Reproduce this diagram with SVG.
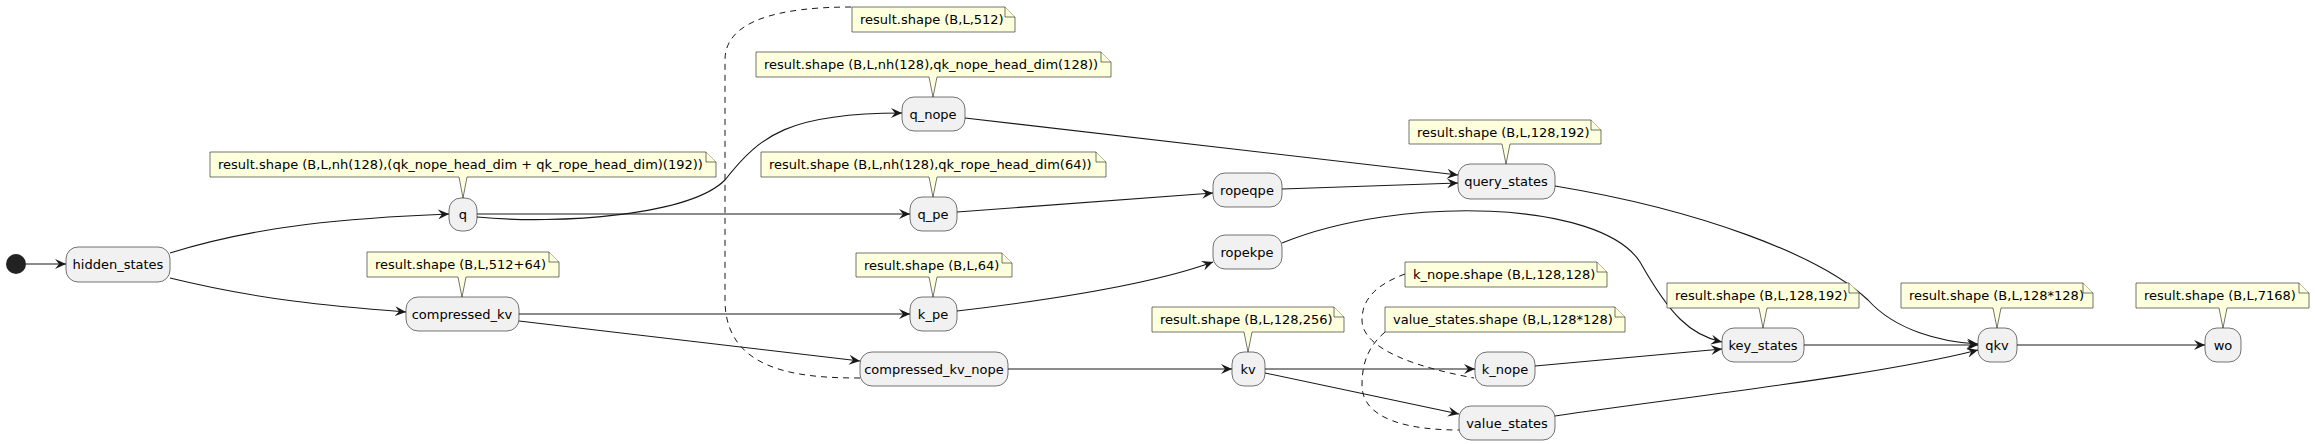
<svg xmlns="http://www.w3.org/2000/svg" width="2315" height="444" viewBox="0 0 2315 444">
<style>
text{font-family:"DejaVu Sans","Liberation Sans",sans-serif;font-size:13px;fill:#000}
.n rect{fill:#F1F1F1;stroke:#181818;stroke-width:0.6}
.n text{text-anchor:middle}
.note path{fill:#FEFFDD;stroke:#181818;stroke-width:0.6}
.e path{fill:none;stroke:#181818;stroke-width:1.1}
.e .a{marker-end:url(#arr)}
.e .d{stroke-dasharray:6 5;stroke-width:1}
</style>
<defs>
<marker id="arr" viewBox="0 0 12 10" refX="11" refY="5" markerWidth="12" markerHeight="10" markerUnits="userSpaceOnUse" orient="auto">
<path d="M0,0 L11,5 L0,10 L4,5 Z" fill="#181818"/>
</marker>
</defs>
<g id="connectors" class="e">
<path class="a" d="M26,264 L66,264"/>
<path class="a" d="M170,253 C260,225 350,218 449,214"/>
<path class="a" d="M170,278 C260,300 330,306 406,312"/>
<path class="a" d="M477,217 C560,225 690,215 725,180 C760,135 790,113 902,113"/>
<path class="a" d="M477,214 L910,214"/>
<path class="a" d="M965,118 L1458,175"/>
<path class="a" d="M957,212 L1213,193"/>
<path class="a" d="M1282,189 L1458,183"/>
<path class="a" d="M519,314 L910,314"/>
<path class="a" d="M519,321 L860,361"/>
<path class="a" d="M957,311 C1050,300 1150,285 1213,262"/>
<path class="a" d="M1282,243 C1400,195 1600,200 1640,262 C1670,315 1690,335 1722,342"/>
<path class="a" d="M1008,369 L1232,369"/>
<path class="a" d="M1265,369 L1475,369"/>
<path class="a" d="M1265,373 L1459,414"/>
<path class="a" d="M1535,366 L1722,349"/>
<path class="a" d="M1804,345 L1978,345"/>
<path class="a" d="M1555,186 C1700,210 1820,255 1868,300 C1895,330 1940,342 1978,344"/>
<path class="a" d="M1555,416 C1700,395 1880,375 1978,350"/>
<path class="a" d="M2017,345 L2205,345"/>
<path class="d" d="M860,378 C800,378 725,372 725,300 L725,60 C725,20 780,7 852,7"/>
<path class="d" d="M1405,274 C1375,285 1362,300 1362,320 C1362,350 1420,368 1474,378"/>
<path class="d" d="M1385,332 C1370,345 1362,360 1362,385 C1362,420 1410,430 1459,430"/>
</g>
<circle id="start" cx="16" cy="264" r="10" fill="#222"/>
<g id="hidden_states" class="n"><rect x="66" y="247" width="104" height="35" rx="12"/><text x="118" y="269">hidden_states</text></g>
<g id="q" class="n"><rect x="449" y="198" width="28" height="33" rx="12"/><text x="463" y="219">q</text></g>
<g id="compressed_kv" class="n"><rect x="406" y="297" width="113" height="34" rx="12"/><text x="462" y="319">compressed_kv</text></g>
<g id="q_nope" class="n"><rect x="902" y="97" width="63" height="34" rx="12"/><text x="933" y="119">q_nope</text></g>
<g id="q_pe" class="n"><rect x="910" y="197" width="47" height="34" rx="12"/><text x="933" y="219">q_pe</text></g>
<g id="ropeqpe" class="n"><rect x="1213" y="173" width="69" height="34" rx="12"/><text x="1247" y="195">ropeqpe</text></g>
<g id="ropekpe" class="n"><rect x="1213" y="235" width="69" height="34" rx="12"/><text x="1247" y="257">ropekpe</text></g>
<g id="k_pe" class="n"><rect x="910" y="297" width="47" height="34" rx="12"/><text x="933" y="319">k_pe</text></g>
<g id="compressed_kv_nope" class="n"><rect x="860" y="352" width="148" height="34" rx="12"/><text x="934" y="374">compressed_kv_nope</text></g>
<g id="kv" class="n"><rect x="1232" y="352" width="33" height="34" rx="12"/><text x="1248" y="374">kv</text></g>
<g id="query_states" class="n"><rect x="1458" y="164" width="97" height="35" rx="12"/><text x="1506" y="186">query_states</text></g>
<g id="k_nope" class="n"><rect x="1475" y="352" width="60" height="34" rx="12"/><text x="1505" y="374">k_nope</text></g>
<g id="value_states" class="n"><rect x="1459" y="406" width="96" height="34" rx="12"/><text x="1507" y="428">value_states</text></g>
<g id="key_states" class="n"><rect x="1722" y="328" width="82" height="34" rx="12"/><text x="1763" y="350">key_states</text></g>
<g id="qkv" class="n"><rect x="1978" y="328" width="39" height="34" rx="12"/><text x="1997" y="350">qkv</text></g>
<g id="wo" class="n"><rect x="2205" y="328" width="36" height="34" rx="12"/><text x="2223" y="350">wo</text></g>
<g id="note_q" class="note"><path d="M210,152 L706,152 L716,162 L716,177 L467,177 L463,198 L459,177 L210,177 Z"/><path d="M706,152 L706,162 L716,162"/><text x="218" y="169">result.shape (B,L,nh(128),(qk_nope_head_dim + qk_rope_head_dim)(192))</text></g>
<g id="note_ckv" class="note"><path d="M367,252 L549,252 L559,262 L559,277 L466,277 L462,297 L458,277 L367,277 Z"/><path d="M549,252 L549,262 L559,262"/><text x="375" y="269">result.shape (B,L,512+64)</text></g>
<g id="note_512" class="note"><path d="M852,7 L1005,7 L1015,17 L1015,32 L852,32 Z"/><path d="M1005,7 L1005,17 L1015,17"/><text x="860" y="24">result.shape (B,L,512)</text></g>
<g id="note_q_nope" class="note"><path d="M756,52 L1101,52 L1111,62 L1111,77 L937,77 L933,97 L929,77 L756,77 Z"/><path d="M1101,52 L1101,62 L1111,62"/><text x="764" y="69">result.shape (B,L,nh(128),qk_nope_head_dim(128))</text></g>
<g id="note_q_pe" class="note"><path d="M761,152 L1096,152 L1106,162 L1106,177 L937,177 L933,197 L929,177 L761,177 Z"/><path d="M1096,152 L1096,162 L1106,162"/><text x="769" y="169">result.shape (B,L,nh(128),qk_rope_head_dim(64))</text></g>
<g id="note_k_pe" class="note"><path d="M856,253 L1002,253 L1012,263 L1012,277 L937,277 L933,297 L929,277 L856,277 Z"/><path d="M1002,253 L1002,263 L1012,263"/><text x="864" y="270">result.shape (B,L,64)</text></g>
<g id="note_kv" class="note"><path d="M1152,307 L1334,307 L1344,317 L1344,332 L1252,332 L1248,352 L1244,332 L1152,332 Z"/><path d="M1334,307 L1334,317 L1344,317"/><text x="1160" y="324">result.shape (B,L,128,256)</text></g>
<g id="note_qs" class="note"><path d="M1409,120 L1591,120 L1601,130 L1601,144 L1510,144 L1506,164 L1502,144 L1409,144 Z"/><path d="M1591,120 L1591,130 L1601,130"/><text x="1417" y="137">result.shape (B,L,128,192)</text></g>
<g id="note_k_nope" class="note"><path d="M1405,262 L1597,262 L1607,272 L1607,287 L1405,287 Z"/><path d="M1597,262 L1597,272 L1607,272"/><text x="1413" y="279">k_nope.shape (B,L,128,128)</text></g>
<g id="note_vs" class="note"><path d="M1385,307 L1615,307 L1625,317 L1625,332 L1385,332 Z"/><path d="M1615,307 L1615,317 L1625,317"/><text x="1393" y="324">value_states.shape (B,L,128*128)</text></g>
<g id="note_ks" class="note"><path d="M1667,283 L1849,283 L1859,293 L1859,308 L1767,308 L1763,328 L1759,308 L1667,308 Z"/><path d="M1849,283 L1849,293 L1859,293"/><text x="1675" y="300">result.shape (B,L,128,192)</text></g>
<g id="note_qkv" class="note"><path d="M1901,283 L2083,283 L2093,293 L2093,308 L2001,308 L1997,328 L1993,308 L1901,308 Z"/><path d="M2083,283 L2083,293 L2093,293"/><text x="1909" y="300">result.shape (B,L,128*128)</text></g>
<g id="note_wo" class="note"><path d="M2136,283 L2299,283 L2309,293 L2309,308 L2227,308 L2223,328 L2219,308 L2136,308 Z"/><path d="M2299,283 L2299,293 L2309,293"/><text x="2144" y="300">result.shape (B,L,7168)</text></g>
</svg>
